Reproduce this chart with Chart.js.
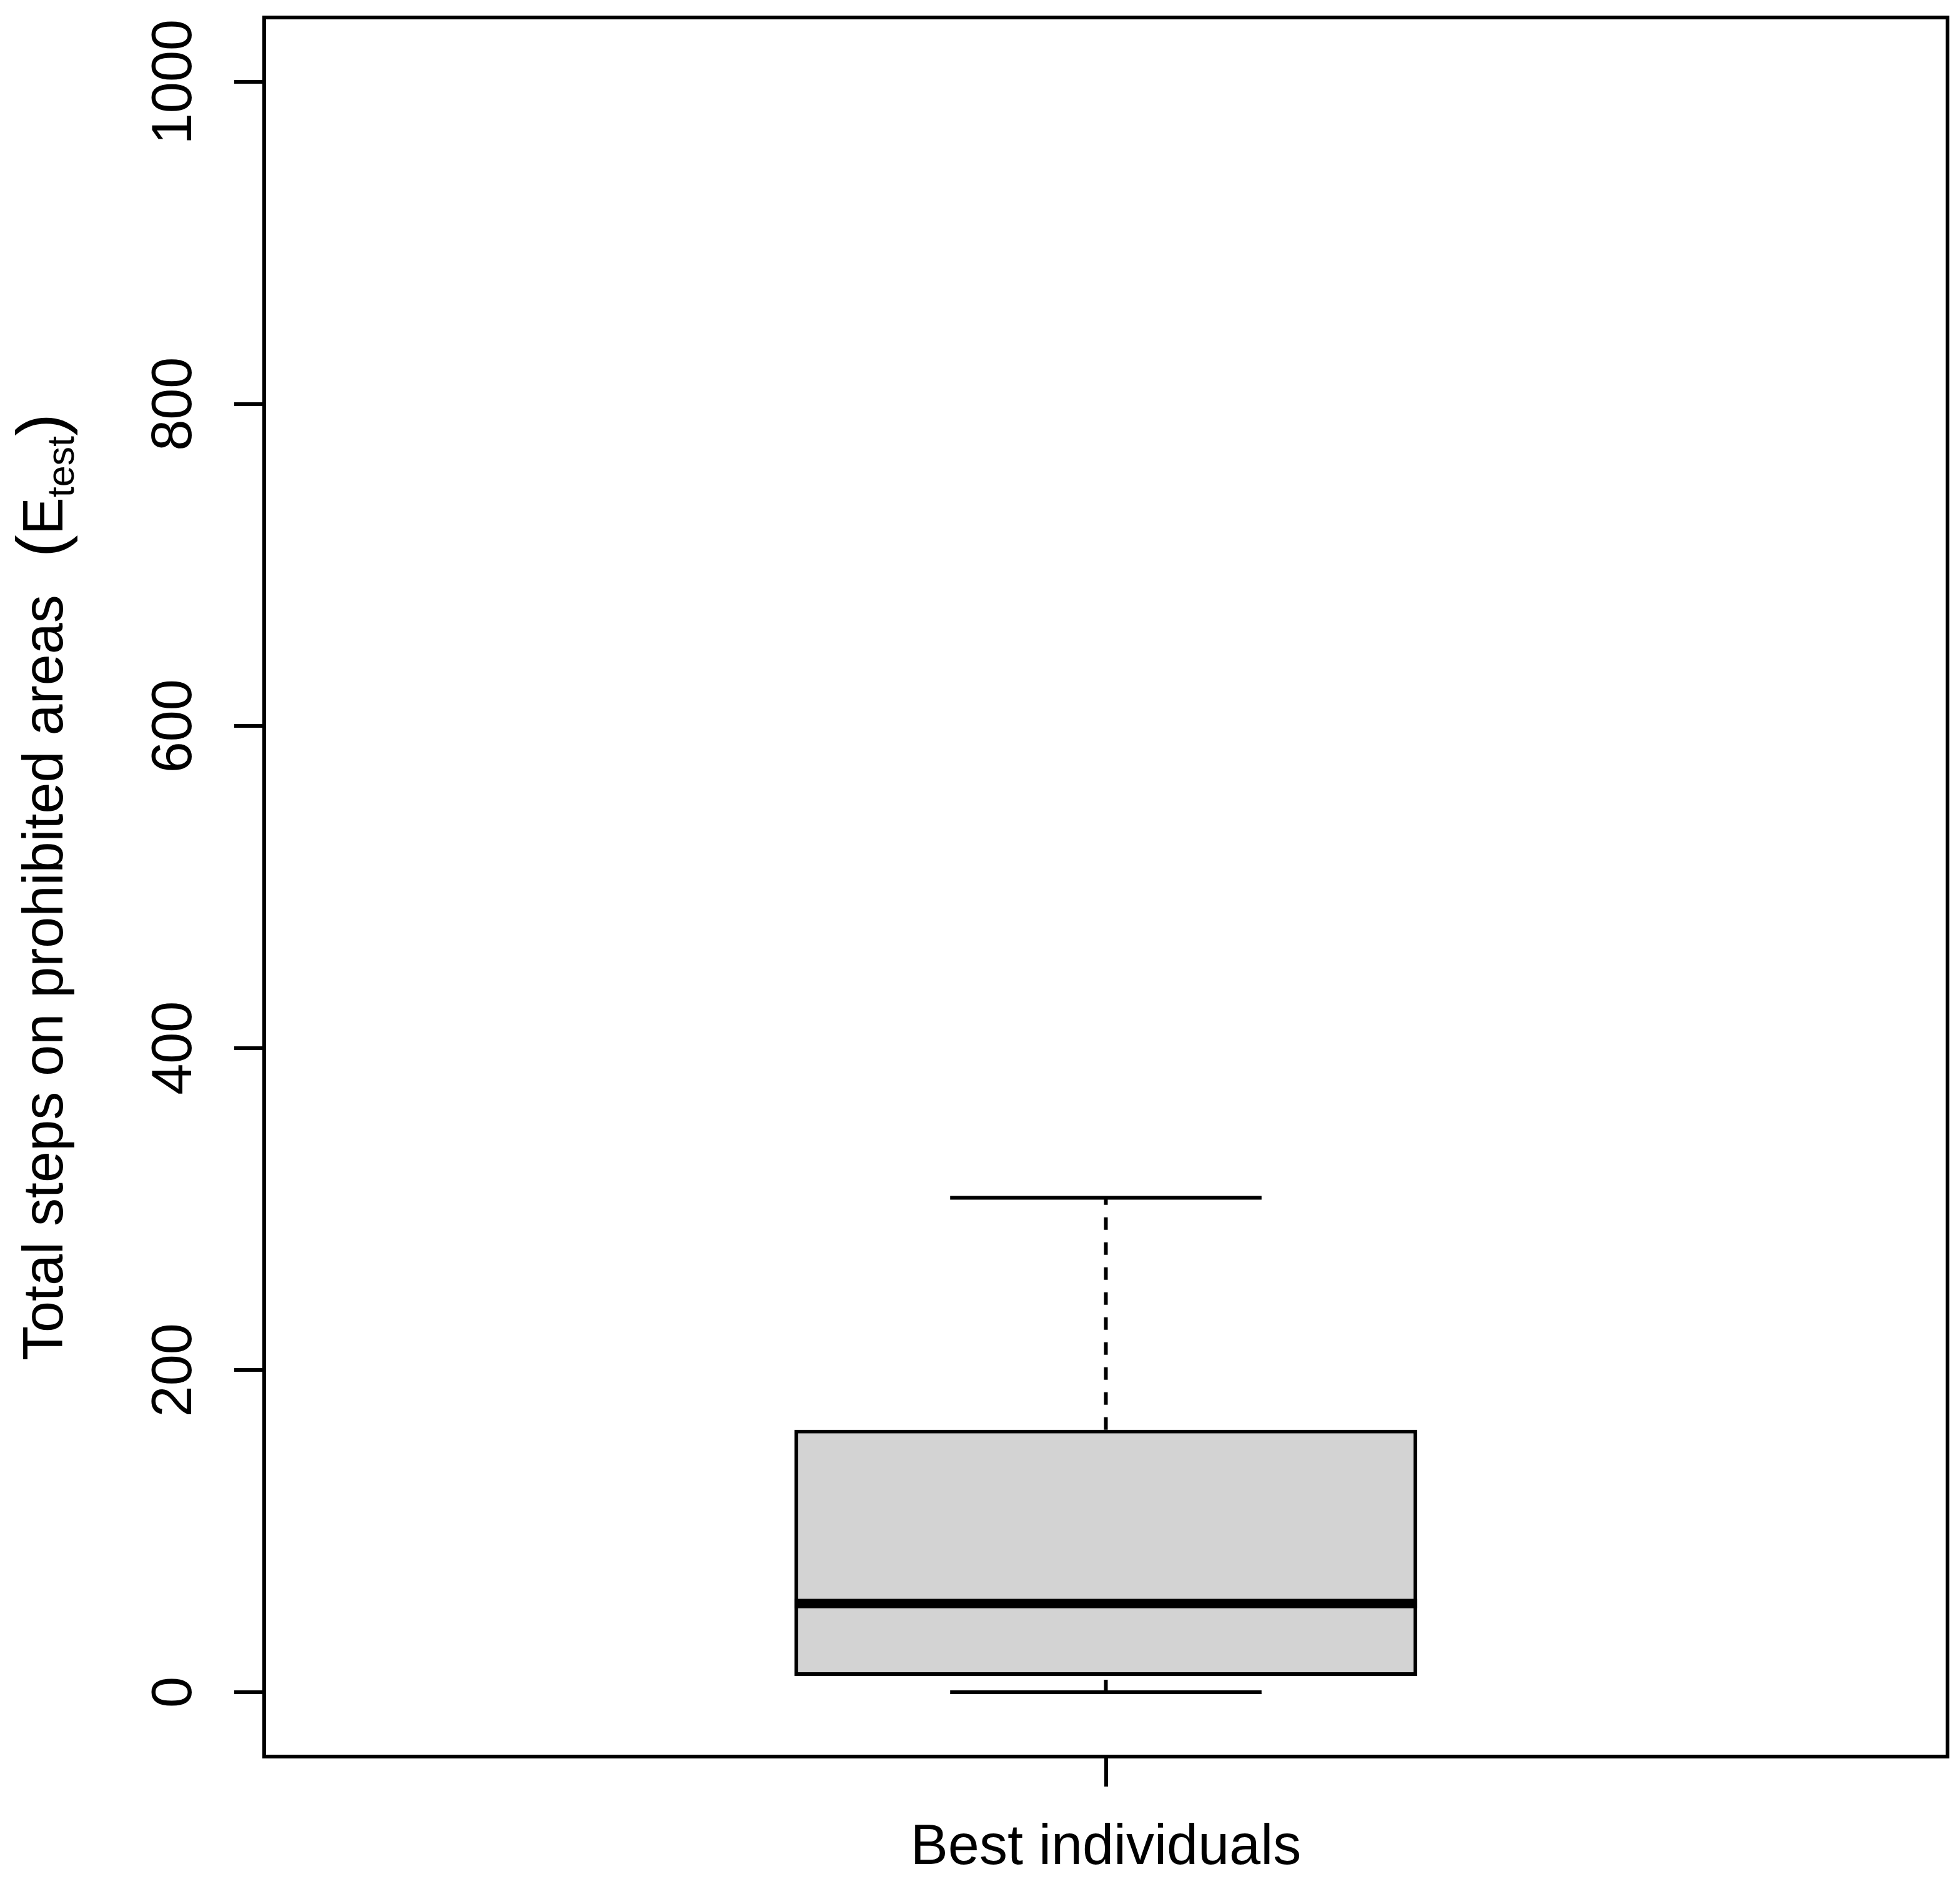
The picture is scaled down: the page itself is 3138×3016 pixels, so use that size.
<!DOCTYPE html>
<html>
<head>
<meta charset="utf-8">
<title>Total steps on prohibited areas</title>
<script src="https://cdn.jsdelivr.net/npm/chart.js@4.4.1/dist/chart.umd.min.js"></script>
<style>
  body { margin: 0; background: #fff; }
  #wrap { width: 3138px; height: 3016px; }
</style>
</head>
<body>
<div id="wrap"><canvas id="boxChart"></canvas></div>
<script>
// data
const categories = ['Best individuals'];
const whiskerLow = [0];
const quartile1 = [10];
const medians = [55];
const quartile3 = [163];
const whiskerHigh = [307];
const yTickValues = [0, 200, 400, 600, 800, 1000];

const FONT = '"Liberation Sans", Arial, sans-serif';
const FS = 90;

// whiskers, caps, median, frame and all the text
const boxExtras = {
    id: 'boxExtras',
    afterDatasetsDraw(chart) {
        const ctx = chart.ctx;
        const y = chart.scales.y;
        const meta = chart.getDatasetMeta(0);
        ctx.save();
        ctx.strokeStyle = '#000';
        ctx.lineCap = 'butt';
        for (let i = 0; i < categories.length; i++) {
            const bar = meta.data[i];
            const cx = bar.x;
            const half = bar.width / 2;
            const capHalf = half / 2;

            // dashed whiskers (drawn outward from the box on top, upward from the minimum below)
            ctx.lineWidth = 6;
            ctx.setLineDash([20, 20]);
            ctx.beginPath();
            ctx.moveTo(cx, y.getPixelForValue(quartile3[i]));
            ctx.lineTo(cx, y.getPixelForValue(whiskerHigh[i]));
            ctx.moveTo(cx, y.getPixelForValue(whiskerLow[i]));
            ctx.lineTo(cx, y.getPixelForValue(quartile1[i]));
            ctx.stroke();
            ctx.setLineDash([]);

            // caps
            ctx.beginPath();
            ctx.moveTo(cx - capHalf, y.getPixelForValue(whiskerHigh[i]));
            ctx.lineTo(cx + capHalf, y.getPixelForValue(whiskerHigh[i]));
            ctx.moveTo(cx - capHalf, y.getPixelForValue(whiskerLow[i]));
            ctx.lineTo(cx + capHalf, y.getPixelForValue(whiskerLow[i]));
            ctx.stroke();

            // median
            ctx.lineWidth = 15;
            ctx.beginPath();
            ctx.moveTo(cx - half, y.getPixelForValue(medians[i]));
            ctx.lineTo(cx + half, y.getPixelForValue(medians[i]));
            ctx.stroke();
        }
        ctx.restore();
    },
    afterDraw(chart) {
        const ctx = chart.ctx;
        const area = chart.chartArea;
        const x = chart.scales.x;
        const y = chart.scales.y;
        ctx.save();

        // frame round the plot
        ctx.strokeStyle = '#000';
        ctx.lineWidth = 6;
        ctx.strokeRect(area.left, area.top, area.right - area.left, area.bottom - area.top);

        ctx.fillStyle = '#000';
        ctx.font = FS + 'px ' + FONT;

        // y tick labels, turned like the axis
        yTickValues.forEach(v => {
            ctx.save();
            ctx.translate(306, y.getPixelForValue(v));
            ctx.rotate(-Math.PI / 2);
            ctx.textAlign = 'center';
            ctx.textBaseline = 'alphabetic';
            ctx.fillText(String(v), 0, 0);
            ctx.restore();
        });

        // x category labels
        ctx.textAlign = 'center';
        ctx.textBaseline = 'alphabetic';
        categories.forEach((c, i) => {
            ctx.fillText(c, x.getPixelForValue(i), 2984);
        });

        // y title with subscript: Total steps on prohibited areas (E_test)
        const main = 'Total steps on prohibited areas';
        const parenFont = '300 108px ' + FONT;
        const subFont = '61px ' + FONT;
        const gap = 60;
        ctx.font = FS + 'px ' + FONT;
        const wMain = ctx.measureText(main).width;
        const wE = ctx.measureText('E').width;
        ctx.font = parenFont;
        const wL = ctx.measureText('(').width;
        const wR = ctx.measureText(')').width;
        ctx.font = subFont;
        const wSub = ctx.measureText('test').width;
        const total = wMain + gap + wL + wE + wSub + wR;

        ctx.translate(100, (area.top + area.bottom) / 2);
        ctx.rotate(-Math.PI / 2);
        ctx.textAlign = 'left';
        let pos = -total / 2;
        ctx.font = FS + 'px ' + FONT;
        ctx.fillText(main, pos, 0);
        pos += wMain + gap;
        ctx.font = parenFont;
        ctx.fillText('(', pos, 2);
        pos += wL;
        ctx.font = FS + 'px ' + FONT;
        ctx.fillText('E', pos, 0);
        pos += wE;
        ctx.font = subFont;
        ctx.fillText('test', pos, 18);
        pos += wSub;
        ctx.font = parenFont;
        ctx.fillText(')', pos, 2);

        ctx.restore();
    }
};

const boxData = quartile1.map((q, i) => [q, quartile3[i]]);

new Chart(document.getElementById('boxChart'), {
    type: 'bar',
    data: {
        labels: categories,
        datasets: [{
            data: boxData,
            backgroundColor: '#d3d3d3',
            borderColor: '#000',
            borderWidth: 6,
            borderSkipped: false,
            barPercentage: 0.37,
            categoryPercentage: 1
        }]
    },
    options: {
        responsive: true,
        maintainAspectRatio: false,
        devicePixelRatio: 1,
        animation: false,
        layout: { padding: { top: 28, right: 20, left: 0, bottom: 0 } },
        plugins: {
            legend: { display: false },
            tooltip: { enabled: false }
        },
        scales: {
            x: {
                offset: true,
                border: { display: false },
                grid: {
                    offset: false,
                    drawOnChartArea: false,
                    drawTicks: true,
                    tickLength: 48,
                    color: '#000',
                    lineWidth: 6
                },
                ticks: { display: false },
                afterFit: s => { s.height = 204; }
            },
            y: {
                min: -40,
                max: 1040,
                border: { display: false },
                grid: {
                    drawOnChartArea: false,
                    drawTicks: true,
                    tickLength: 48,
                    color: '#000',
                    lineWidth: 6
                },
                ticks: { display: false },
                afterBuildTicks: s => { s.ticks = yTickValues.map(v => ({ value: v })); },
                afterFit: s => { s.width = 423; }
            }
        }
    },
    plugins: [boxExtras]
});
</script>
</body>
</html>
